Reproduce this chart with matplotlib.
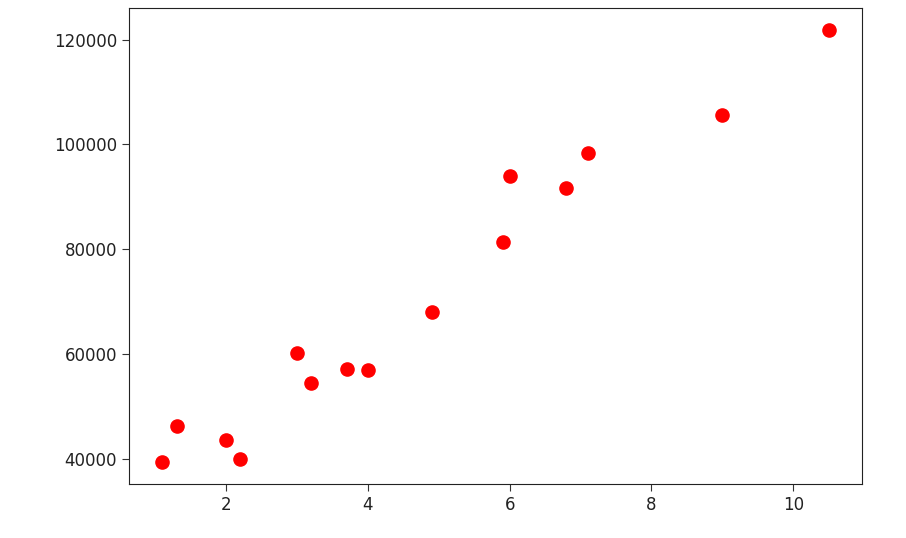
import matplotlib
matplotlib.use("Agg")
import matplotlib.pyplot as plt

years = [1.1, 1.3, 2.0, 2.2, 3.0, 3.2, 3.7, 4.0, 4.9, 5.9, 6.0, 6.8, 7.1, 9.0, 10.5]
salary = [39343, 46205, 43525, 39891, 60150, 54445, 57189, 56957, 67938, 81363, 93940, 91738, 98273, 105582, 121872]

fig = plt.figure(figsize=(9.06, 5.38), dpi=100)
ax = fig.add_axes([0.1424, 0.1004, 0.809, 0.8846])
ax.scatter(years, salary, color="red", s=90, zorder=3)
ax.set_xticks([2, 4, 6, 8, 10])
ax.set_yticks([40000, 60000, 80000, 100000, 120000])
ax.tick_params(labelsize=12, length=5, color="#333333", labelcolor="#222222")
for sp in ax.spines.values():
    sp.set_color("#222222")
fig.savefig("out.png", dpi=100)
